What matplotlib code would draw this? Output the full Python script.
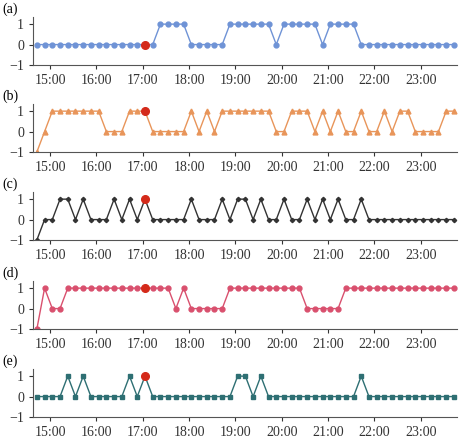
import numpy as np
import matplotlib.pyplot as plt

plt.rcParams['font.family'] = 'serif'
plt.rcParams['font.serif'] = ['Liberation Serif', 'DejaVu Serif']

# sample times: every 10 min starting 14:43
t_start = 14 + 43 / 60
times = [t_start + k * 10 / 60 for k in range(55)]
red_idx = 14

series_a = [0] * 16 + [1] * 4 + [0] * 5 + [1] * 6 + [0] + [1] * 5 + [0] + [1] * 4 + [0] * 13
series_b = [-1, 0] + [1] * 7 + [0] * 3 + [1] * 3 + [0] * 5 + [1, 0, 1, 0] + [1] * 7 + [0, 0] + \
           [1] * 3 + [0, 1, 0, 1, 0, 0, 1, 0, 0, 1, 0, 1, 1, 0, 0, 0, 0, 1, 1]
series_c = [-1, 0, 0, 1, 1, 0, 1, 0, 0, 0, 1, 0, 1, 0, 1] + [0] * 5 + [1, 0, 0, 0, 1, 0, 1, 1, 0, 1,
           0, 0, 1, 0, 0, 1, 0, 1, 0, 1, 0, 0, 1] + [0] * 12
series_d = [-1, 1, 0, 0] + [1] * 14 + [0, 1] + [0] * 5 + [1] * 10 + [0] * 5 + [1] * 15
series_e = [0] * 4 + [1, 0, 1] + [0] * 5 + [1, 0, 1] + [0] * 11 + [1, 1, 0, 1] + [0] * 12 + [1] + [0] * 12

labels = ['(a)', '(b)', '(c)', '(d)', '(e)']
colors = ['#6f93d6', '#e8955a', '#333333', '#d9506e', '#2e6f73']
markers = ['o', '^', 'D', 'o', 's']
msizes = [3.5, 3.5, 2.2, 3.5, 3.5]
hour_ticks = list(range(15, 24))
tick_labels = [f'{h}:00' for h in hour_ticks]

W, H = 474, 440
fig = plt.figure(figsize=(W / 100, H / 100), dpi=100)
bottoms = [65, 152, 240, 329, 417]
for i, ys in enumerate([series_a, series_b, series_c, series_d, series_e]):
    b = bottoms[i]
    ax = fig.add_axes([33 / W, 1 - b / H, 424 / W, 48 / H])
    ax.plot(times, ys, color=colors[i], marker=markers[i], ms=msizes[i], lw=1.0)
    ax.plot(times[red_idx], ys[red_idx], 'o', color='#d42a1a', ms=5.5, zorder=5)
    ax.set_xlim(14 + 38 / 60, 23 + 47 / 60)
    ax.set_ylim(-1, 1.35)
    ax.set_yticks([-1, 0, 1])
    ax.set_yticklabels(['\u22121', '0', '1'])
    ax.set_xticks(hour_ticks)
    ax.set_xticklabels(tick_labels)
    ax.tick_params(labelsize=10, length=3, width=0.8, colors='#333333')
    for s in ['top', 'right']:
        ax.spines[s].set_visible(False)
    for s in ['left', 'bottom']:
        ax.spines[s].set_color('#555555')
    fig.text(2 / W, 1 - (b - 56) / H, labels[i], fontsize=10, va='center')

fig.savefig('out.png', dpi=100)
